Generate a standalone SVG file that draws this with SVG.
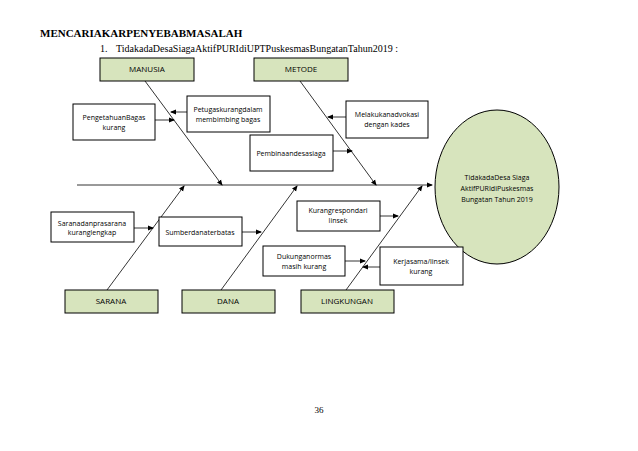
<svg xmlns="http://www.w3.org/2000/svg" width="638" height="451" viewBox="0 0 638 451">
<defs><marker id="a" markerWidth="6" markerHeight="6" refX="5" refY="3" orient="auto" markerUnits="userSpaceOnUse"><path d="M0,0.5 L6,3 L0,5.5 z" fill="#000"/></marker></defs>
<style>
.c{fill:#d7e4bd;stroke:#000;stroke-width:1}
.b{fill:#fff;stroke:#000;stroke-width:1}
.t{font-family:"Open Sans","Liberation Sans",sans-serif;font-size:7px;text-anchor:middle;fill:#000}
.h{font-family:"Open Sans","Liberation Sans",sans-serif;font-size:8px;text-anchor:middle;fill:#000}
line{stroke:#000;stroke-width:0.8;marker-end:url(#a)}
.s{font-family:"Liberation Serif",serif;fill:#000}
</style>
<rect width="638" height="451" fill="#fff"/>
<text class="s" x="40" y="37" font-size="11" font-weight="bold">MENCARIAKARPENYEBABMASALAH</text>
<text class="s" x="100" y="52" font-size="10">1.</text>
<text class="s" x="116" y="52" font-size="10">TidakadaDesaSiagaAktifPURIdiUPTPuskesmasBungatanTahun2019 :</text>
<g id="connectors">
<line x1="77" y1="185" x2="432" y2="185"/>
<line x1="145" y1="81" x2="222" y2="185"/>
<line x1="300" y1="81" x2="376" y2="185"/>
<line x1="107" y1="290" x2="184" y2="186"/>
<line x1="221" y1="290" x2="297" y2="186"/>
<line x1="346" y1="290" x2="422" y2="186"/>
<line x1="187" y1="112" x2="171" y2="112"/>
<line x1="155" y1="120" x2="174" y2="120"/>
<line x1="346" y1="117" x2="328" y2="117"/>
<line x1="333" y1="151" x2="352" y2="151"/>
<line x1="134" y1="228" x2="153" y2="228"/>
<line x1="242" y1="232" x2="261" y2="232"/>
<line x1="380" y1="216" x2="398" y2="216"/>
<line x1="345" y1="261" x2="365" y2="261"/>
<line x1="380" y1="267" x2="363" y2="267"/>
</g>
<g id="problem"><ellipse cx="497" cy="187" rx="62" ry="77" fill="#d7e4bd" stroke="#000"/>
<text class="t" x="497" y="180">TidakadaDesa Siaga</text><text class="t" x="497" y="191">AktifPURIdiPuskesmas</text><text class="t" x="497" y="202">Bungatan Tahun 2019</text></g>
<g id="manusia"><rect class="c" x="100" y="58" width="94" height="23"/><text class="h" x="147" y="72">MANUSIA</text></g>
<g id="metode"><rect class="c" x="254" y="58" width="94" height="23"/><text class="h" x="301" y="72">METODE</text></g>
<g id="sarana"><rect class="c" x="65" y="290" width="93" height="23"/><text class="h" x="111" y="304">SARANA</text></g>
<g id="dana"><rect class="c" x="182" y="290" width="93" height="23"/><text class="h" x="228" y="304">DANA</text></g>
<g id="lingkungan"><rect class="c" x="301" y="290" width="93" height="23"/><text class="h" x="347" y="304">LINGKUNGAN</text></g>
<g id="pengetahuan"><rect class="b" x="73" y="104" width="82" height="36"/><text class="t" x="114" y="120">PengetahuanBagas</text><text class="t" x="114" y="130">kurang</text></g>
<g id="petugas"><rect class="b" x="187" y="96" width="83" height="36"/><text class="t" x="228" y="112">Petugaskurangdalam</text><text class="t" x="228" y="122">membimbing bagas</text></g>
<g id="melakukan"><rect class="b" x="346" y="101" width="82" height="37"/><text class="t" x="387" y="117">Melakukanadvokasi</text><text class="t" x="387" y="127">dengan kades</text></g>
<g id="pembinaan"><rect class="b" x="250" y="135" width="83" height="36"/><text class="t" x="291" y="156">Pembinaandesasiaga</text></g>
<g id="saranadan"><rect class="b" x="51" y="212" width="83" height="30"/><text class="t" x="92" y="226">Saranadanprasarana</text><text class="t" x="92" y="235">kuranglengkap</text></g>
<g id="sumberdana"><rect class="b" x="159" y="217" width="83" height="29"/><text class="t" x="200" y="235">Sumberdanaterbatas</text></g>
<g id="kurangrespon"><rect class="b" x="297" y="201" width="83" height="30"/><text class="t" x="338" y="213">Kurangrespondari</text><text class="t" x="338" y="223">linsek</text></g>
<g id="dukungan"><rect class="b" x="263" y="246" width="82" height="30"/><text class="t" x="304" y="259">Dukunganormas</text><text class="t" x="304" y="269">masih kurang</text></g>
<g id="kerjasama"><rect class="b" x="380" y="247" width="83" height="38"/><text class="t" x="421" y="264">Kerjasama/linsek</text><text class="t" x="421" y="274">kurang</text></g>
<text class="s" x="319" y="413" font-size="9" text-anchor="middle">36</text>
</svg>
